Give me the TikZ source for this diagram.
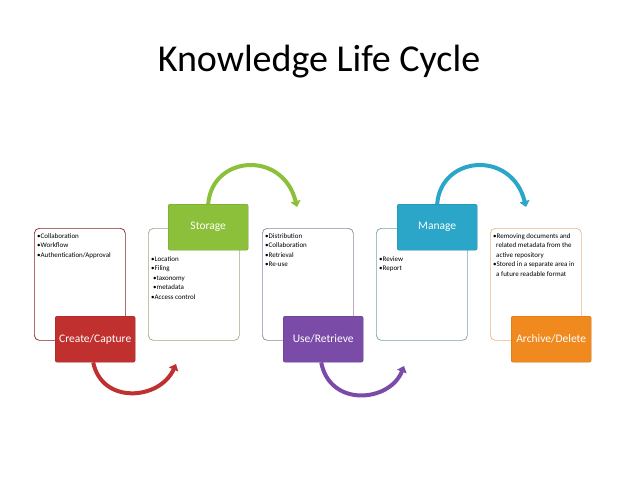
\documentclass[tikz,border=0pt]{standalone}
\usepackage{fontspec}
\setmainfont{Carlito}
\usetikzlibrary{arrows.meta}
\definecolor{cred}{HTML}{C0302F}
\definecolor{cgreen}{HTML}{8CC03A}
\definecolor{cpurple}{HTML}{7A4CA8}
\definecolor{cblue}{HTML}{2BA5C8}
\definecolor{corange}{HTML}{F08A1E}
\begin{document}
\begin{tikzpicture}[x=1pt,y=-1pt,
 tbox/.style={draw=#1,line width=0.7pt,rounded corners=5pt,minimum width=91pt,minimum height=112pt,anchor=north west,inner sep=0pt},
 lbl/.style={fill=#1,draw=#1!80!black,rounded corners=2pt,minimum width=80pt,minimum height=46pt,anchor=north west,text=white,font=\fontsize{11.5}{13}\selectfont},
 items/.style={anchor=north west,font=\fontsize{7}{9.5}\selectfont,align=left,inner sep=0pt},
 arc/.style={line width=4pt,draw=#1,-{Triangle[length=6pt,width=10pt]}}]
\useasboundingbox (0,0) rectangle (638,479);
\node[font=\fontsize{38}{42}\selectfont] (title) at (319,62) {Knowledge Life Cycle};
% text boxes
\node[tbox=cred!70!black] (b1) at (34,228) {};
\node[tbox=cgreen!60!black!60] (b2) at (148,228) {};
\node[tbox=cpurple!60!black!60] (b3) at (262,228) {};
\node[tbox=cblue!60!black!60] (b4) at (376,228) {};
\node[tbox=corange!50!brown!60] (b5) at (490,228) {};
% items
\node[items] (t1) at (37,233) {•Collaboration\\•Workflow\\•Authentication/Approval};
\node[items] (t2) at (151,256) {•Location\\•Filing\\\hspace{2pt}•taxonomy\\\hspace{2pt}•metadata\\•Access control};
\node[items] (t3) at (265,233) {•Distribution\\•Collaboration\\•Retrieval\\•Re-use};
\node[items] (t4) at (379,256) {•Review\\•Report};
\node[items] (t5) at (493,233) {•Removing documents  and\\\hspace{3pt}related metadata from the\\\hspace{3pt}active repository\\•Stored in a separate area in\\\hspace{3pt}a future readable format};
% labels
\node[lbl=cred] (l1) at (55,316) {Create/Capture};
\node[lbl=cgreen] (l2) at (168,204) {Storage};
\node[lbl=cpurple] (l3) at (283,316) {Use/Retrieve};
\node[lbl=cblue] (l4) at (397,204) {Manage};
\node[lbl=corange] (l5) at (511,316) {Archive/Delete};
% arcs
\coordinate (e1) at (176,364);
\coordinate (e2) at (297,207);
\coordinate (e3) at (404,366);
\coordinate (e4) at (526,207);
\draw[arc=cred] (l1.south) ++(-2,0) .. controls (102,405) and (160,400) .. (e1);
\draw[arc=cgreen] (l2.north) .. controls (212,155) and (283,150) .. (e2);
\draw[arc=cpurple] (l3.south) ++(-2,0) .. controls (330,408) and (390,402) .. (e3);
\draw[arc=cblue] (l4.north) .. controls (441,155) and (512,150) .. (e4);
\end{tikzpicture}
\end{document}
